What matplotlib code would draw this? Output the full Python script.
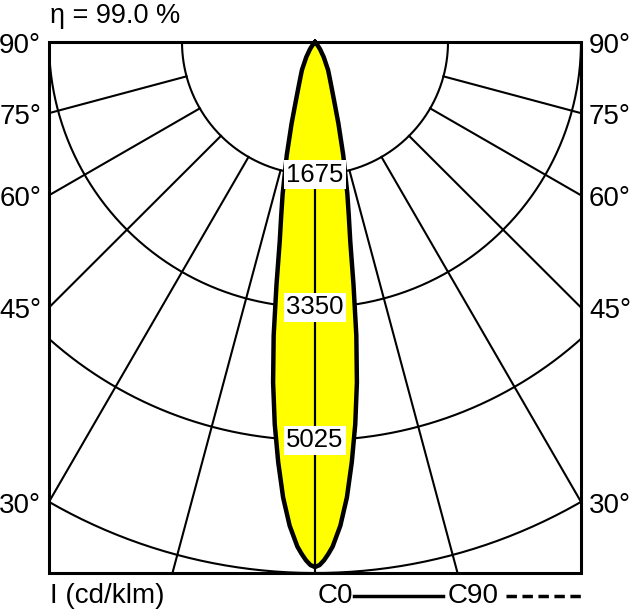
import numpy as np
import matplotlib
matplotlib.use("Agg")
import matplotlib.pyplot as plt
from matplotlib.patches import Rectangle

plt.rcParams['font.family'] = ['Liberation Sans', 'DejaVu Sans']

# ---- data ----
gamma_deg = [0, 0.5, 1, 1.5, 2, 3, 4, 5, 6, 7, 8, 9, 10, 11, 12, 14, 16, 18, 20, 22, 25, 30, 35, 40, 50, 90]
i_c0 = [6625, 6600, 6540, 6460, 6370, 6110, 5760, 5320, 4850, 4330, 3740, 3100, 2560, 2230, 1960, 1470, 1070, 780, 610, 500, 390, 220, 110, 40, 0, 0]
i_c90 = i_c0
ring_values = [1675, 3350, 5025, 6700]
ring_labels = ["1675", "3350", "5025"]
spoke_angles = [0, 15, 30, 45, 60, 75]
side_labels = ["90°", "75°", "60°", "45°", "30°"]
side_angles = [90, 75, 60, 45, 30]
efficiency = "η = 99.0 %"
unit_label = "I (cd/klm)"
half_width = 3350
depth = 6700

fig = plt.figure(figsize=(6.32, 6.14), dpi=100)
ax = fig.add_axes([49/632, 1-573/614, 532/632, 531/614])
ax.set_xlim(-half_width, half_width)
ax.set_ylim(-depth, 0)
ax.set_aspect('auto')
ax.axis('off')

lw_grid = 1.5
# rings
t = np.linspace(-np.pi/2, np.pi/2, 400)
for r in ring_values:
    ax.plot(r*np.sin(t), -r*np.cos(t), color='black', lw=lw_grid, zorder=2)

# spokes (from inner ring outward)
r0 = ring_values[0]
rmax = 20000
for a in spoke_angles:
    for s in ([1, -1] if a != 0 else [1]):
        th = np.deg2rad(a*s)
        ax.plot([r0*np.sin(th), rmax*np.sin(th)], [-r0*np.cos(th), -rmax*np.cos(th)],
                color='black', lw=lw_grid, zorder=2 if a != 0 else 4)

# curve
g = np.deg2rad(np.array(gamma_deg, dtype=float))
I = np.array(i_c0, dtype=float)
gg = np.concatenate([-g[::-1], g[1:]])
II = np.concatenate([I[::-1], I[1:]])
xc = II*np.sin(gg)
yc = -II*np.cos(gg)
ax.fill(xc, yc, color='#FFFF00', zorder=3, clip_on=False)
ax.plot(xc, yc, color='black', lw=3.2, zorder=5, solid_joinstyle='round', clip_on=False)
I90 = np.array(i_c90, dtype=float)
II90 = np.concatenate([I90[::-1], I90[1:]])
ax.plot(II90*np.sin(gg), -II90*np.cos(gg), color='black', lw=1.5, ls=(0, (4, 2)), zorder=5, clip_on=False)

# vertical 0 line on top of fill
ax.plot([0, 0], [-r0, -depth], color='black', lw=lw_grid, zorder=4)

# ring labels
for v, lab in zip(ring_values, ring_labels):
    ax.text(0, -v, lab, ha='center', va='center', fontsize=18.5, zorder=6,
            bbox=dict(boxstyle='square,pad=0.1', fc='white', ec='none'))

# frame
ax.add_patch(Rectangle((-half_width, -depth), 2*half_width, depth, fill=False,
                       ec='black', lw=2.2, zorder=7, clip_on=False))

# side labels
for lab, a in zip(side_labels, side_angles):
    th = np.deg2rad(a)
    y = (-half_width/np.tan(th) if a != 90 else 0) - 50
    ax.text(-half_width - 100, y, lab, ha='right', va='center', fontsize=20)
    ax.text(half_width + 100, y, lab, ha='left', va='center', fontsize=20)

ybot = 1-596/614
fig.text(50/632, 1-16/614, efficiency, ha='left', va='center', fontsize=19.5)
fig.text(50/632, ybot, unit_label, ha='left', va='center', fontsize=20)
fig.text(318/632, ybot, "C0", ha='left', va='center', fontsize=20)
fig.add_artist(plt.Line2D([354/632, 443/632], [ybot, ybot], color='black', lw=2.5))
fig.text(448/632, ybot, "C90", ha='left', va='center', fontsize=20)
fig.add_artist(plt.Line2D([506/632, 581/632], [ybot, ybot], color='black', lw=2.5,
                          ls=(0, (3, 1.6))))

fig.savefig("out.png", dpi=100)
